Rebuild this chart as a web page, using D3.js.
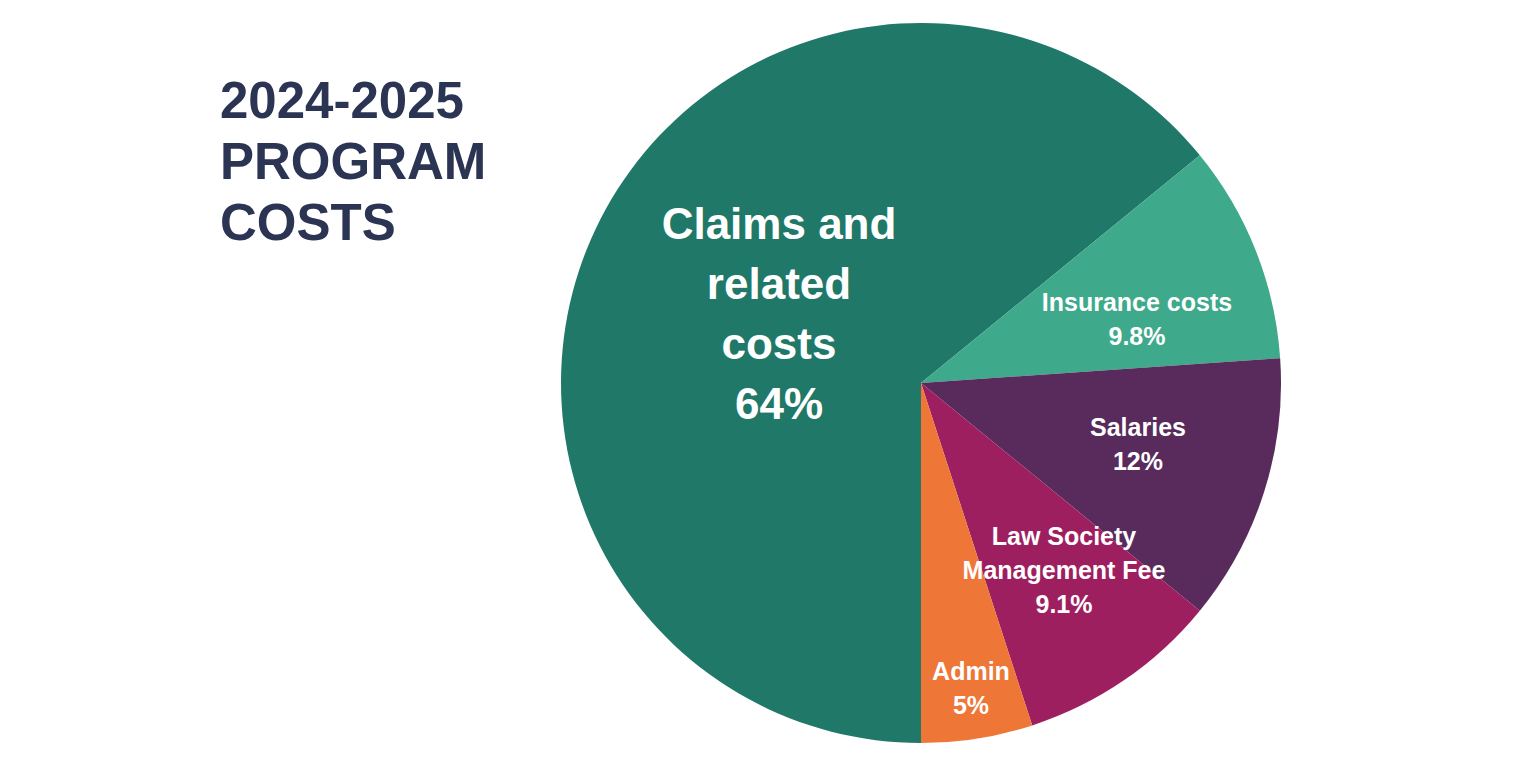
<!DOCTYPE html>
<html><head><meta charset="utf-8">
<script src="https://cdn.jsdelivr.net/npm/d3@7"></script>
<style>body{margin:0;background:#fff}</style></head>
<body><svg id="c" width="1536" height="771"></svg>
<script>
const categories = ["Claims and related costs","Insurance costs","Salaries","Law Society Management Fee","Admin"];
const values = [64.1, 9.8, 12, 9.1, 5];
const valueLabels = ["64%","9.8%","12%","9.1%","5%"];
const colors = ["#1f7868","#3fa98b","#582b5c","#9e1f60","#ee7637"];
const labelLines = [["Claims and","related","costs","64%"],["Insurance costs","9.8%"],["Salaries","12%"],["Law Society","Management Fee","9.1%"],["Admin","5%"]];
const labelPos = [[779,223,60,44],[1137,302,34,25],[1138,427,34,25],[1064,536,34,25],[971,671,34,25]];
const titleLines = ["2024-2025","PROGRAM","COSTS"];

const svg = d3.select("#c");
const cx=921, cy=383, r=360;
const pie = d3.pie().sort(null).startAngle(Math.PI).endAngle(3*Math.PI);
const arc = d3.arc().innerRadius(0).outerRadius(r);
const g = svg.append("g").attr("transform",`translate(${cx},${cy})`);
g.selectAll("path").data(pie(values)).join("path").attr("d",arc).attr("fill",(d,i)=>colors[i]);

labelLines.forEach((lines,i)=>{
  const [x,y,lh,fs]=labelPos[i];
  lines.forEach((t,j)=>{
    svg.append("text").attr("x",x).attr("y",y+j*lh).attr("text-anchor","middle")
      .attr("dominant-baseline","central").attr("fill","#fff")
      .attr("font-family","Liberation Sans, Arial, sans-serif").attr("font-weight","bold")
      .attr("font-size",fs).text(t);
  });
});
titleLines.forEach((t,j)=>{
  svg.append("text").attr("x",220).attr("y",118+j*61).attr("fill","#2b3553")
    .attr("font-family","Liberation Sans, Arial, sans-serif").attr("font-weight","bold")
    .attr("font-size",51).text(t);
});
</script></body></html>
